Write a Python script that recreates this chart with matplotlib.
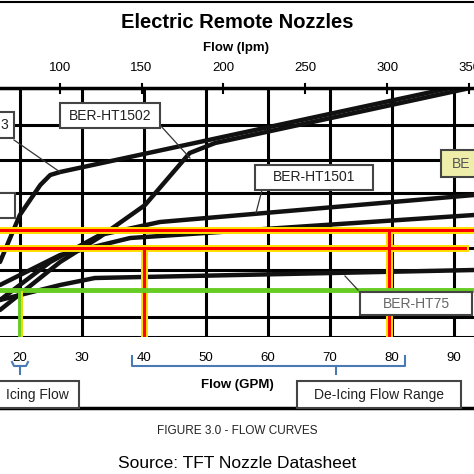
import matplotlib
matplotlib.use("Agg")
import matplotlib.pyplot as plt
from matplotlib.patches import Rectangle

plt.rcParams['font.family'] = ['Liberation Sans', 'DejaVu Sans']

gpm_ticks = [20, 30, 40, 50, 60, 70, 80, 90]
lpm_ticks = [100, 150, 200, 250, 300, 350]
hgrid = [88, 125, 160, 193, 230, 248, 270, 290, 317, 337]

c1_x = [16.8, 20.0, 23.3, 24.9, 26.5, 89.4, 93.3]
c1_y = [262, 215, 185, 175, 172, 88, 84]
c2_x = [16.8, 26.5, 32.9, 40.2, 47.4, 51.5, 92.6]
c2_y = [310, 262, 237, 205, 153, 143, 88]
c3_x = [16.8, 24.9, 32.9, 42.6, 93.3]
c3_y = [300, 262, 235, 222, 195]
c4_x = [16.8, 26.5, 37.8, 93.3]
c4_y = [285, 255, 238, 215]
c5_x = [16.8, 26.5, 32.1, 93.3]
c5_y = [300, 285, 278, 270]

W = 474
fig = plt.figure(figsize=(4.74, 4.74), dpi=100)
ax = fig.add_axes([0, 1 - 337 / W, 1, (337 - 88) / W])
x0, x1 = 16.8, 16.8 + W / 6.2
ax.set_xlim(x0, x1)
ax.set_ylim(337, 88)
for g in gpm_ticks:
    ax.axvline(g, color='black', lw=2.2, zorder=1)
for h in hgrid:
    ax.axhline(h, color='black', lw=2.2, zorder=1)
for xs, ys in [(c1_x, c1_y), (c2_x, c2_y), (c3_x, c3_y), (c4_x, c4_y), (c5_x, c5_y)]:
    ax.plot(xs, ys, color='#111111', lw=3.2, zorder=3, solid_capstyle='round')

def oline(xs, ys, c2='red'):
    ax.plot(xs, ys, color='#ffe000', lw=5, zorder=4)
    ax.plot(xs, ys, color=c2, lw=2.2, zorder=5)

oline([x0, x1], [230, 230])
oline([x0, 91.8], [248, 248])
oline([40, 40], [248, 337])
oline([79.6, 79.6], [230, 337])
ax.plot([x0, x1], [290, 290], color='#66cc22', lw=3.5, zorder=5)
ax.plot([20, 20], [290, 337], color='#66cc22', lw=3.5, zorder=5)
ax.plot([20.3, 20.3], [292, 337], color='#ffe000', lw=1.2, zorder=5)
ax.set_xticks([]); ax.set_yticks([])
for s in ax.spines.values():
    s.set_visible(False)

def px(x, y):
    return x / W, 1 - y / W

def box(x, y, w, h, text='', fc='white', fs=10, color='#222222'):
    fig.patches.append(Rectangle(px(x, y + h), w / W, h / W, transform=fig.transFigure,
                                 fc=fc, ec='#444444', lw=1.5, zorder=10))
    if text:
        fig.text(*px(x + w / 2, y + h / 2), text, ha='center', va='center',
                 fontsize=fs, color=color, zorder=11)

# leader lines
fig.add_artist(plt.Line2D([14 / W, 60 / W], [1 - 140 / W, 1 - 172 / W], color='#333', lw=0.9))
fig.add_artist(plt.Line2D([160 / W, 190 / W], [1 - 125 / W, 1 - 158 / W], color='#333', lw=0.9))
fig.add_artist(plt.Line2D([262 / W, 256 / W], [1 - 190 / W, 1 - 213 / W], color='#333', lw=0.9))
fig.add_artist(plt.Line2D([345 / W, 358 / W], [1 - 276 / W, 1 - 290 / W], color='#333', lw=0.9))

box(-5, 112, 19, 26, '3')
box(60, 103, 100, 25, 'BER-HT1502')
box(255, 165, 118, 25, 'BER-HT1501')
box(441, 150, 40, 27, 'BE', fc='#eeeeaa', color='#555555')
box(-5, 193, 20, 25)
box(360, 292, 112, 23, 'BER-HT75', color='#666666')

fig.text(0.5, 1 - 22 / W, 'Electric Remote Nozzles', ha='center', va='center', fontsize=14.5, fontweight='bold')
fig.text(236 / W, 1 - 48 / W, 'Flow (lpm)', ha='center', va='center', fontsize=9.5, fontweight='bold')
for v in lpm_ticks:
    xp = (v / 3.785 - x0) * 6.2
    fig.text(xp / W, 1 - 68 / W, str(v), ha='center', va='center', fontsize=9.5)
    fig.add_artist(plt.Line2D([xp / W] * 2, [1 - 84 / W, 1 - 93 / W], color='black', lw=1.5))
fig.add_artist(plt.Line2D([0, 1], [1 - 88 / W, 1 - 88 / W], color='black', lw=2.5))
for g in gpm_ticks:
    xp = (g - x0) * 6.2
    fig.text(xp / W, 1 - 358 / W, str(g), ha='center', va='center', fontsize=9.5)

# braces
bc = '#4a7ab5'
fig.add_artist(plt.Line2D([132 / W, 132 / W, 405 / W, 405 / W],
                          [1 - 356 / W, 1 - 366 / W, 1 - 366 / W, 1 - 356 / W], color=bc, lw=1.5))
fig.add_artist(plt.Line2D([336 / W] * 2, [1 - 366 / W, 1 - 374 / W], color=bc, lw=1.5))
fig.add_artist(plt.Line2D([12 / W, 14 / W, 26 / W, 28 / W],
                          [1 - 362 / W, 1 - 366 / W, 1 - 366 / W, 1 - 362 / W], color=bc, lw=1.5))
fig.add_artist(plt.Line2D([20 / W] * 2, [1 - 366 / W, 1 - 374 / W], color=bc, lw=1.5))

fig.text(237 / W, 1 - 385 / W, 'Flow (GPM)', ha='center', va='center', fontsize=9.5, fontweight='bold')
fig.add_artist(plt.Line2D([0, 1], [1 - 408 / W, 1 - 408 / W], color='black', lw=2.5))
box(-5, 381, 84, 27, 'Icing Flow', fs=10)
box(297, 381, 164, 27, 'De-Icing Flow Range', fs=10)
fig.text(0.5, 1 - 431 / W, 'FIGURE 3.0 - FLOW CURVES', ha='center', va='center', fontsize=8.5, color='#222')
fig.text(237 / W, 1 - 463 / W, 'Source: TFT Nozzle Datasheet', ha='center', va='center', fontsize=12.5)
fig.add_artist(plt.Line2D([0, 1], [1 - 2 / W, 1 - 2 / W], color='black', lw=1.5))

fig.savefig('out.png', dpi=100)
